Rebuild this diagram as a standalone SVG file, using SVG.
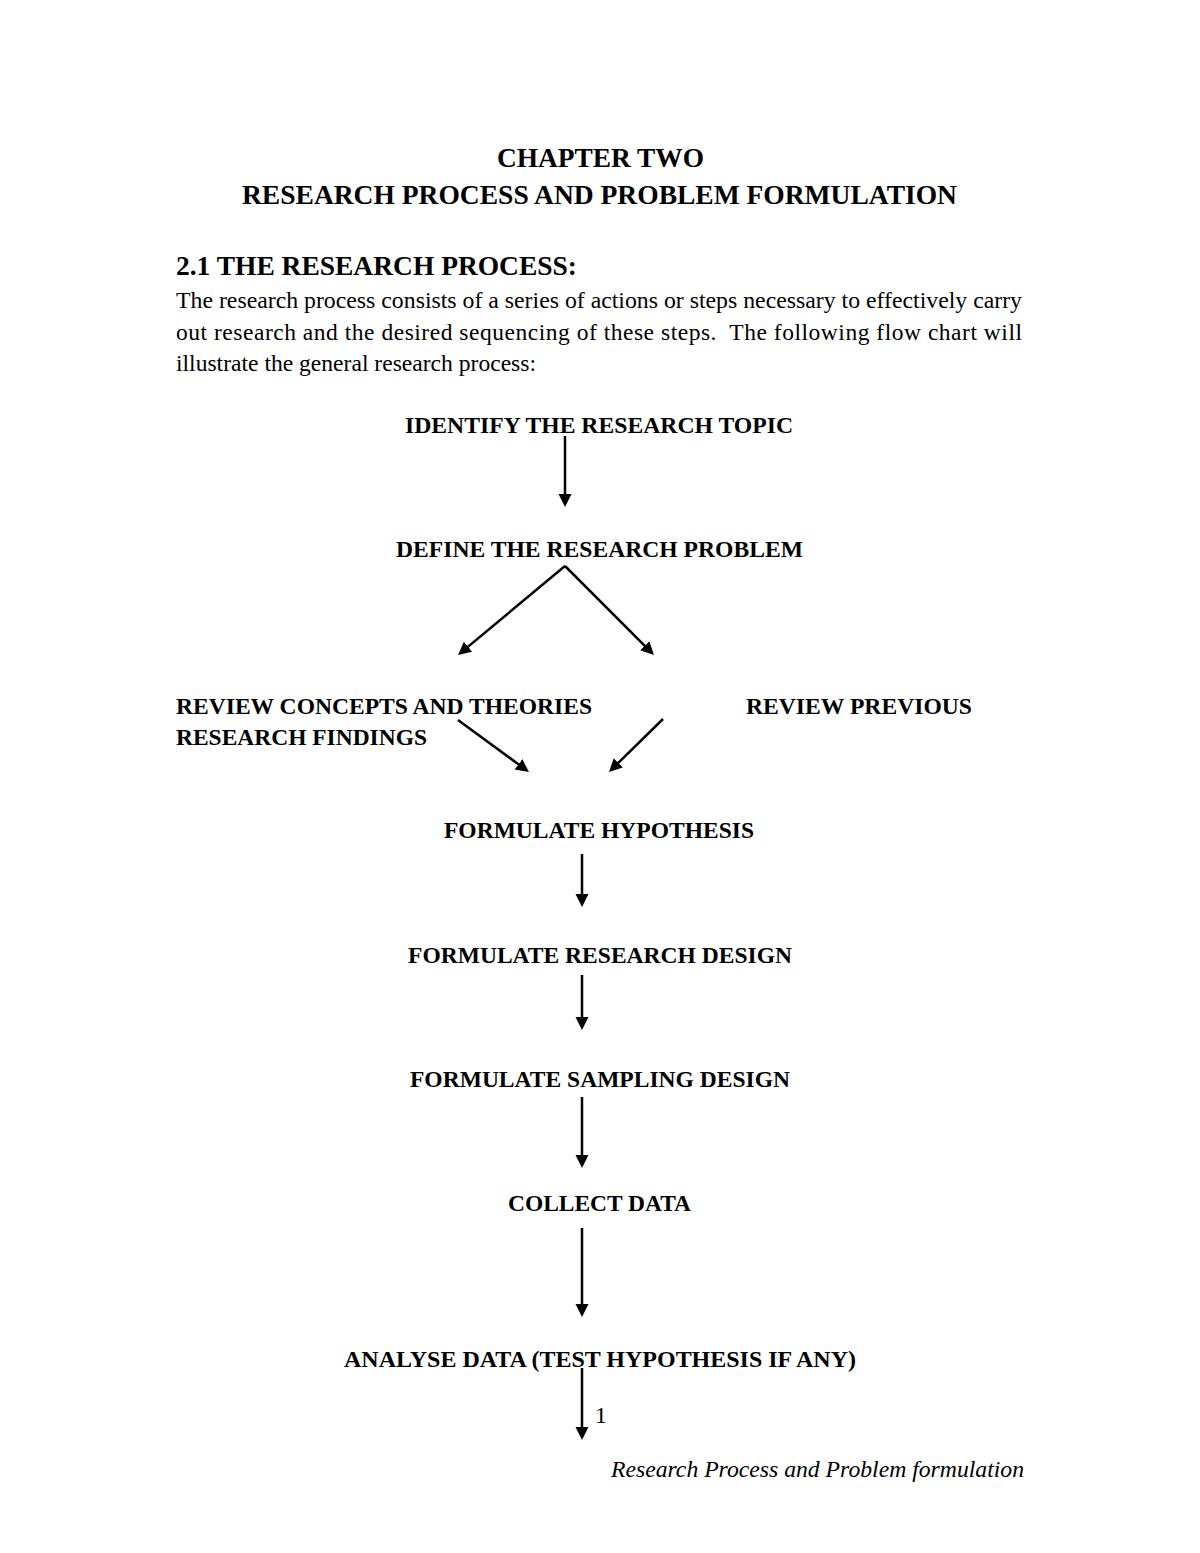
<svg xmlns="http://www.w3.org/2000/svg" width="1200" height="1553" viewBox="0 0 1200 1553">
<style>
  .title { font-family: "Liberation Serif", "Times New Roman", serif; font-weight: bold; font-size: 27px; fill: #000; }
  .body { font-family: "Liberation Serif", "Times New Roman", serif; font-size: 23.5px; fill: #000; }
  .node { font-family: "Liberation Serif", "Times New Roman", serif; font-weight: bold; font-size: 23px; fill: #000; }
  .foot { font-family: "Liberation Serif", "Times New Roman", serif; font-style: italic; font-size: 23.5px; fill: #000; }
  .conn { stroke: #000; stroke-width: 2.5; fill: none; marker-end: url(#arrow); }
</style>
<defs>
  <marker id="arrow" viewBox="0 0 14 14" markerUnits="userSpaceOnUse" markerWidth="14" markerHeight="14" refX="5" refY="6.5" orient="auto">
    <path d="M0,0 L13,6.5 L0,13 Z" fill="#000"/>
  </marker>
</defs>
<rect width="1200" height="1553" fill="#fff"/>

<g id="header">
  <text class="title" x="497" y="167" textLength="207" lengthAdjust="spacingAndGlyphs">CHAPTER TWO</text>
  <text class="title" x="242" y="204" textLength="715" lengthAdjust="spacingAndGlyphs">RESEARCH PROCESS AND PROBLEM FORMULATION</text>
  <text class="title" x="176" y="275" textLength="401" lengthAdjust="spacingAndGlyphs">2.1 THE RESEARCH PROCESS:</text>
  <text class="body" x="176" y="308" textLength="846" lengthAdjust="spacingAndGlyphs">The research process consists of a series of actions or steps necessary to effectively carry</text>
  <text class="body" x="176" y="340" textLength="846" lengthAdjust="spacing" xml:space="preserve">out research and the desired sequencing of these steps.  The following flow chart will</text>
  <text class="body" x="176" y="371" textLength="360" lengthAdjust="spacingAndGlyphs">illustrate the general research process:</text>
</g>

<g id="connectors">
  <line class="conn" x1="565" y1="436" x2="565" y2="499"/>
  <line class="conn" x1="565" y1="566" x2="464.2" y2="649.9"/>
  <line class="conn" x1="565" y1="566" x2="648.3" y2="649.3"/>
  <line class="conn" x1="458" y1="720" x2="522.5" y2="767.3"/>
  <line class="conn" x1="663" y1="719" x2="614.7" y2="766.4"/>
  <line class="conn" x1="582" y1="854" x2="582" y2="899"/>
  <line class="conn" x1="582" y1="975" x2="582" y2="1022"/>
  <line class="conn" x1="582" y1="1097" x2="582" y2="1160"/>
  <line class="conn" x1="582" y1="1228" x2="582" y2="1309"/>
  <line class="conn" x1="582" y1="1368" x2="582" y2="1432"/>
</g>

<g id="n-identify"><text class="node" x="405" y="433" textLength="388" lengthAdjust="spacingAndGlyphs">IDENTIFY THE RESEARCH TOPIC</text></g>
<g id="n-define"><text class="node" x="396" y="557" textLength="407" lengthAdjust="spacingAndGlyphs">DEFINE THE RESEARCH PROBLEM</text></g>
<g id="n-review-concepts"><text class="node" x="176" y="714" textLength="416" lengthAdjust="spacingAndGlyphs">REVIEW CONCEPTS AND THEORIES</text></g>
<g id="n-review-previous">
  <text class="node" x="746" y="714" textLength="226" lengthAdjust="spacingAndGlyphs">REVIEW PREVIOUS</text>
  <text class="node" x="176" y="745" textLength="251" lengthAdjust="spacingAndGlyphs">RESEARCH FINDINGS</text>
</g>
<g id="n-hypothesis"><text class="node" x="444" y="838" textLength="310" lengthAdjust="spacingAndGlyphs">FORMULATE HYPOTHESIS</text></g>
<g id="n-research-design"><text class="node" x="408" y="963" textLength="384" lengthAdjust="spacingAndGlyphs">FORMULATE RESEARCH DESIGN</text></g>
<g id="n-sampling-design"><text class="node" x="410" y="1087" textLength="380" lengthAdjust="spacingAndGlyphs">FORMULATE SAMPLING DESIGN</text></g>
<g id="n-collect"><text class="node" x="508" y="1211" textLength="183" lengthAdjust="spacingAndGlyphs">COLLECT DATA</text></g>
<g id="n-analyse"><text class="node" x="344" y="1367" textLength="512" lengthAdjust="spacingAndGlyphs">ANALYSE DATA (TEST HYPOTHESIS IF ANY)</text></g>

<g id="footer">
  <text class="body" x="595" y="1423">1</text>
  <text class="foot" x="611" y="1477" textLength="413" lengthAdjust="spacingAndGlyphs">Research Process and Problem formulation</text>
</g>
</svg>
